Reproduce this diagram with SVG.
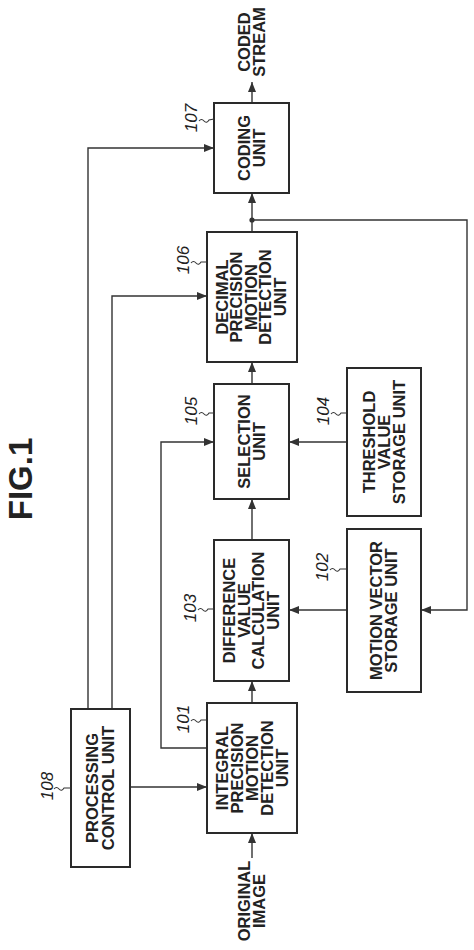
<svg xmlns="http://www.w3.org/2000/svg" width="474" height="950" viewBox="0 0 474 950">
<style>
.bg{fill:#fff}
.box{fill:#fff;stroke:#2a2a2a;stroke-width:2}
.ln{fill:none;stroke:#333;stroke-width:1.4}
.ld{fill:none;stroke:#333;stroke-width:1.1}
.t{font-family:"Liberation Sans",Arial,sans-serif;font-weight:bold;font-size:16.5px;fill:#222;text-anchor:middle}
.n{font-family:"Liberation Sans",Arial,sans-serif;font-style:italic;font-size:17px;fill:#222;text-anchor:middle}
.fig{font-family:"Liberation Sans",Arial,sans-serif;font-weight:bold;font-size:33px;fill:#222;text-anchor:middle}
</style>
<defs>
<marker id="ah" viewBox="0 0 10 8" refX="10" refY="4" markerWidth="10" markerHeight="8" markerUnits="userSpaceOnUse" orient="auto">
<path d="M0,0 L10,4 L0,8 Z" fill="#333"/>
</marker>
</defs>
<rect class="bg" x="0" y="0" width="474" height="950"/>
<text class="fig" transform="translate(32,479) rotate(-90)">FIG.1</text>

<g id="connectors">
<path class="ln" d="M252,103 V82" marker-end="url(#ah)"/>
<path class="ln" d="M252,232 V193" marker-end="url(#ah)"/>
<circle cx="252" cy="220" r="2.6" fill="#333"/>
<path class="ln" d="M252,220 H467 V610 H421" marker-end="url(#ah)"/>
<path class="ln" d="M252,384 V362" marker-end="url(#ah)"/>
<path class="ln" d="M252,540 V499" marker-end="url(#ah)"/>
<path class="ln" d="M252,703 V681" marker-end="url(#ah)"/>
<path class="ln" d="M252,858 V833" marker-end="url(#ah)"/>
<path class="ln" d="M347,442 H289" marker-end="url(#ah)"/>
<path class="ln" d="M347,610 H289" marker-end="url(#ah)"/>
<path class="ln" d="M207,748 H161 V442 H214" marker-end="url(#ah)"/>
<path class="ln" d="M88,709 V148 H214" marker-end="url(#ah)"/>
<path class="ln" d="M112,709 V296 H207" marker-end="url(#ah)"/>
<path class="ln" d="M130,787 H207" marker-end="url(#ah)"/>
</g>

<g id="io-labels">
<text class="t" transform="translate(252,42) rotate(-90)"><tspan x="0" y="-1.8">CODED</tspan><tspan x="0" y="13.2">STREAM</tspan></text>
<text class="t" transform="translate(252,901) rotate(-90)"><tspan x="0" y="-1.8">ORIGINAL</tspan><tspan x="0" y="13.2">IMAGE</tspan></text>
</g>

<g id="n107">
<rect class="box" x="214" y="103" width="75" height="90"/>
<text class="t" transform="translate(251.5,148) rotate(-90)"><tspan x="0" y="-1.8">CODING</tspan><tspan x="0" y="13.2">UNIT</tspan></text>
<text class="n" transform="translate(197,118) rotate(-90)">107</text>
<path class="ld" d="M199,121 q2.5,-3 5,0 t5,-1 L214,119"/>
</g>

<g id="n106">
<rect class="box" x="207" y="232" width="90" height="130"/>
<text class="t" transform="translate(251,297) rotate(-90)"><tspan x="0" y="-23.3">DECIMAL</tspan><tspan x="0" y="-8.8">PRECISION</tspan><tspan x="0" y="5.7">MOTION</tspan><tspan x="0" y="20.2">DETECTION</tspan><tspan x="0" y="34.7">UNIT</tspan></text>
<text class="n" transform="translate(189,260) rotate(-90)">106</text>
<path class="ld" d="M191,263 q2.5,-3 5,0 t5,-1 L207,262"/>
</g>

<g id="n105">
<rect class="box" x="214" y="384" width="75" height="115"/>
<text class="t" transform="translate(251.5,441.5) rotate(-90)"><tspan x="0" y="-1.8">SELECTION</tspan><tspan x="0" y="13.2">UNIT</tspan></text>
<text class="n" transform="translate(197,411) rotate(-90)">105</text>
<path class="ld" d="M199,414 q2.5,-3 5,0 t5,-1 L214,413"/>
</g>

<g id="n104">
<rect class="box" x="347" y="368" width="74" height="148"/>
<text class="t" transform="translate(384,442) rotate(-90)"><tspan x="0" y="-9.3">THRESHOLD</tspan><tspan x="0" y="5.7">VALUE</tspan><tspan x="0" y="20.7">STORAGE UNIT</tspan></text>
<text class="n" transform="translate(329,411) rotate(-90)">104</text>
<path class="ld" d="M331,414 q2.5,-3 5,0 t5,-1 L347,413"/>
</g>

<g id="n103">
<rect class="box" x="214" y="540" width="75" height="141"/>
<text class="t" transform="translate(251,610.5) rotate(-90)"><tspan x="0" y="-16">DIFFERENCE</tspan><tspan x="0" y="-1.5">VALUE</tspan><tspan x="0" y="13">CALCULATION</tspan><tspan x="0" y="27.5">UNIT</tspan></text>
<text class="n" transform="translate(196,608) rotate(-90)">103</text>
<path class="ld" d="M198,610 q2.5,-3 5,0 t5,-1 L214,609"/>
</g>

<g id="n102">
<rect class="box" x="347" y="529" width="74" height="163"/>
<text class="t" transform="translate(384,610.5) rotate(-90)"><tspan x="0" y="-1.8">MOTION VECTOR</tspan><tspan x="0" y="13.2">STORAGE UNIT</tspan></text>
<text class="n" transform="translate(328,567) rotate(-90)">102</text>
<path class="ld" d="M330,570 q2.5,-3 5,0 t5,-1 L347,569"/>
</g>

<g id="n108">
<rect class="box" x="71" y="709" width="59" height="158"/>
<text class="t" transform="translate(100.5,788) rotate(-90)"><tspan x="0" y="-2.3">PROCESSING</tspan><tspan x="0" y="13.7">CONTROL UNIT</tspan></text>
<text class="n" transform="translate(53,786) rotate(-90)">108</text>
<path class="ld" d="M54,789 q2.5,-3 5,0 t5,-1 L71,788"/>
</g>

<g id="n101">
<rect class="box" x="207" y="703" width="90" height="130"/>
<text class="t" transform="translate(252,768) rotate(-90)"><tspan x="0" y="-24.3">INTEGRAL</tspan><tspan x="0" y="-9.3">PRECISION</tspan><tspan x="0" y="5.7">MOTION</tspan><tspan x="0" y="20.7">DETECTION</tspan><tspan x="0" y="35.7">UNIT</tspan></text>
<text class="n" transform="translate(189,719) rotate(-90)">101</text>
<path class="ld" d="M191,721 q2.5,-3 5,0 t5,-1 L207,720"/>
</g>
</svg>
